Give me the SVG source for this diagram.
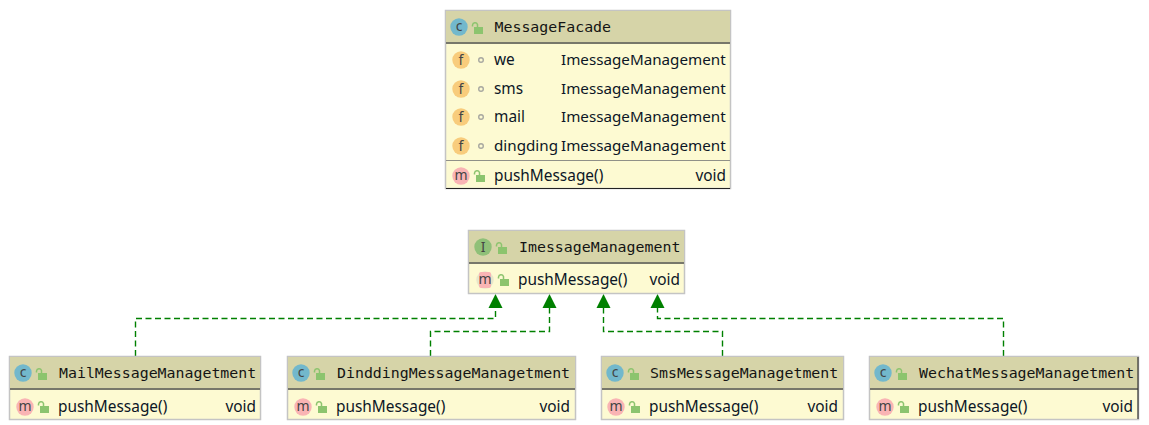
<svg xmlns="http://www.w3.org/2000/svg" width="1149" height="425" viewBox="0 0 1149 425">
<style>
text{font-family:"Noto Sans","Open Sans","Liberation Sans",sans-serif;font-size:15.4px;fill:#0c1626}
.y{font-size:15.2px}
.t{font-family:"DejaVu Sans Mono","Liberation Mono",monospace;font-size:14.9px;fill:#141414}
.body{fill:#fdfad2;stroke:#c4c4c4;stroke-width:1.5}
.head{fill:#d6d4a8}
.sep{stroke:#77776a;stroke-width:2}
.thin{stroke:#909088;stroke-width:1.2}
.ic{font-size:14px;text-anchor:middle;fill:#444}
.r{text-anchor:end}
.conn{fill:none;stroke:#008000;stroke-width:1.4;stroke-dasharray:6 3.5}
.ah{fill:#008000}
</style>
<defs>
<g id="lock"><rect x="-4" y="-1" width="9" height="7" fill="#8cc46e"/><path d="M-3 -1v-2.500a2.600 2.600 0 0 0 -5 0.500v1.500" fill="none" stroke="#8cc46e" stroke-width="1.500" transform="translate(2.500 0)"/></g>
<g id="cI"><circle r="8.700" fill="#72b8cc"/><text class="ic" y="4">c</text></g>
<g id="fI"><circle r="8.700" fill="#f8cc7c"/><text class="ic" y="4.500">f</text></g>
<g id="mI"><circle r="8.700" fill="#f9b4b4"/><text class="ic" y="4">m</text></g>
<g id="dot"><circle r="2.300" fill="none" stroke="#a8a8a0" stroke-width="1.400"/></g>
</defs>
<g id="connectors">
<path class="conn" d="M135.500 356V318.500H495.500V306"/>
<path class="conn" d="M430.500 356V331.500H549.500V306"/>
<path class="conn" d="M722.500 356V331.500H603.500V306"/>
<path class="conn" d="M1003.500 356V318.500H657.500V306"/>
<path class="ah" d="M495.500 294l7 14h-14z"/>
<path class="ah" d="M549.500 294l7 14h-14z"/>
<path class="ah" d="M603.500 294l7 14h-14z"/>
<path class="ah" d="M657.500 294l7 14h-14z"/>
</g>
<g id="MessageFacade">
<rect class="body" x="445.500" y="10.500" width="285" height="178"/>
<rect class="head" x="446" y="11" width="284" height="32"/>
<path class="sep" d="M446 43H730"/>
<path class="thin" d="M446 160.500H730"/>
<path d="M446 188.500H730" stroke="#222" stroke-width="1.200"/>
<use href="#cI" x="459" y="27"/><use href="#lock" x="478" y="28"/>
<text class="t" x="494.500" y="31.500">MessageFacade</text>
<use href="#fI" x="461" y="60"/><use href="#dot" x="481" y="60"/>
<text x="494" y="65">we</text><text class="y" x="561" y="65">ImessageManagement</text>
<use href="#fI" x="461" y="89"/><use href="#dot" x="481" y="89"/>
<text x="494" y="94">sms</text><text class="y" x="561" y="94">ImessageManagement</text>
<use href="#fI" x="461" y="117"/><use href="#dot" x="481" y="117"/>
<text x="494" y="122">mail</text><text class="y" x="561" y="122">ImessageManagement</text>
<use href="#fI" x="461" y="146"/><use href="#dot" x="481" y="146"/>
<text class="y" x="494" y="151">dingding</text><text class="y" x="561" y="151">ImessageManagement</text>
<use href="#mI" x="461" y="176"/><use href="#lock" x="480" y="176"/>
<text x="494" y="181">pushMessage()</text><text class="r" x="726" y="181">void</text>
</g>
<g id="ImessageManagement">
<rect class="body" x="468.500" y="230.500" width="216" height="63"/>
<rect class="head" x="469" y="231" width="215" height="32"/>
<path class="sep" d="M469 263H684"/>
<circle cx="483" cy="247" r="8.700" fill="#8fc078"/><text class="ic" x="483" y="251.500">I</text>
<use href="#lock" x="502" y="248"/>
<text class="t" x="519" y="251.500">ImessageManagement</text>
<circle cx="485" cy="280" r="8.700" fill="#e8e6ca"/><rect x="479" y="272" width="12" height="16" rx="2" fill="#f9b4b4"/><text class="ic" x="485" y="284">m</text>
<use href="#lock" x="504" y="280"/>
<text x="518" y="285">pushMessage()</text><text class="r" x="680" y="285">void</text>
</g>
<g id="MailMessageManagetment">
<rect class="body" x="9.500" y="356.500" width="251" height="63"/>
<rect class="head" x="10" y="357" width="250" height="32"/>
<path class="sep" d="M10 389H260"/>
<use href="#cI" x="23" y="373"/><use href="#lock" x="42" y="374"/>
<text class="t" x="59" y="378">MailMessageManagetment</text>
<use href="#mI" x="25" y="407"/><use href="#lock" x="44" y="407"/>
<text x="58" y="412">pushMessage()</text><text class="r" x="256" y="412">void</text>
</g>
<g id="DinddingMessageManagetment">
<rect class="body" x="287.500" y="356.500" width="288" height="63"/>
<rect class="head" x="288" y="357" width="287" height="32"/>
<path class="sep" d="M288 389H575"/>
<use href="#cI" x="301" y="373"/><use href="#lock" x="320" y="374"/>
<text class="t" x="337" y="378">DinddingMessageManagetment</text>
<use href="#mI" x="303" y="407"/><use href="#lock" x="322" y="407"/>
<text x="336" y="412">pushMessage()</text><text class="r" x="570" y="412">void</text>
</g>
<g id="SmsMessageManagetment">
<rect class="body" x="601.500" y="356.500" width="242" height="63"/>
<rect class="head" x="602" y="357" width="241" height="32"/>
<path class="sep" d="M602 389H843"/>
<use href="#cI" x="615" y="373"/><use href="#lock" x="634" y="374"/>
<text class="t" x="650" y="378">SmsMessageManagetment</text>
<use href="#mI" x="616" y="407"/><use href="#lock" x="635" y="407"/>
<text x="649" y="412">pushMessage()</text><text class="r" x="838" y="412">void</text>
</g>
<g id="WechatMessageManagetment">
<rect class="body" x="869.500" y="356.500" width="269" height="63"/>
<rect class="head" x="870" y="357" width="268" height="32"/>
<path class="sep" d="M870 389H1138"/>
<path d="M1138 357V419" stroke="#333" stroke-width="1.200"/>
<use href="#cI" x="883" y="373"/><use href="#lock" x="902" y="374"/>
<text class="t" x="919" y="378">WechatMessageManagetment</text>
<use href="#mI" x="885" y="407"/><use href="#lock" x="904" y="407"/>
<text x="918" y="412">pushMessage()</text><text class="r" x="1133" y="412">void</text>
</g>
</svg>
